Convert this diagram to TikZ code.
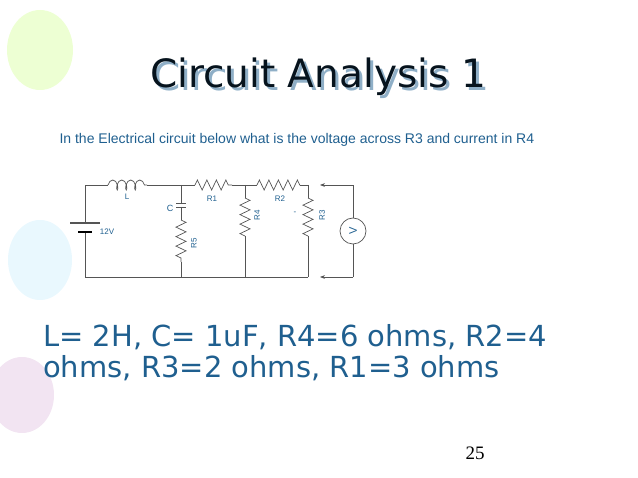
\documentclass[tikz,border=0pt]{standalone}
\usepackage{fontspec}
\setmainfont{DejaVu Sans}
\newfontfamily\arialf{Liberation Sans}
\newfontfamily\timesf{Liberation Serif}
\usetikzlibrary{decorations.pathmorphing,arrows.meta}
\definecolor{txt}{HTML}{1F5F8F}
\definecolor{wire}{HTML}{555555}
\tikzset{
 w/.style={draw=wire,line width=0.7pt},
 res/.style={w,decorate,decoration={zigzag,segment length=9.5pt,amplitude=5pt}},
 coil/.style={w,decorate,decoration={coil,aspect=0.5,segment length=9pt,amplitude=5pt}},
 lab/.style={text=txt,font=\arialf\fontsize{8}{9}\selectfont,inner sep=0pt},
 balloon/.style={fill opacity=0.35,draw=none},
}
\begin{document}
\begin{tikzpicture}[x=1pt,y=-1pt]
\useasboundingbox (0,0) rectangle (638,478);
% balloons
\fill[balloon,fill=green!40!yellow!50] (40,50) ellipse (33 and 40);
\fill[balloon,fill=cyan!25] (40,260) ellipse (32 and 40);
\fill[balloon,fill=violet!30] (22,395) ellipse (32 and 38);
% title
\node[text=txt!50,font=\fontsize{39}{46}\selectfont] at (321,80) {Circuit Analysis 1};
\node[text=black!80!txt,font=\fontsize{39}{46}\selectfont] (title) at (318,77) {Circuit Analysis 1};
\node[text=txt,font=\arialf\fontsize{14}{16}\selectfont,anchor=west] (q) at (56,140) {In the Electrical circuit below what is the voltage across R3 and current in R4};
% circuit
\coordinate (TL) at (85,185); \coordinate (BL) at (85,277);
\coordinate (Li) at (108,185); \coordinate (Lo) at (147,185);
\coordinate (J1) at (181,185); \coordinate (J1b) at (181,277);
\coordinate (R1a) at (195,185); \coordinate (R1b) at (232,185);
\coordinate (J2) at (245,185); \coordinate (J2b) at (245,277);
\coordinate (R2a) at (257,185); \coordinate (R2b) at (300,185);
\coordinate (J3) at (308,185); \coordinate (J3b) at (308,277);
\coordinate (A1) at (320,185); \coordinate (A2) at (320,277);
\coordinate (VT) at (353,185); \coordinate (VB) at (353,277);
\draw[w] (BL) -- (85,232) (85,223) -- (TL) -- (Li);
\draw[w,line width=1.2pt] (70,223) -- (100,223);
\draw[draw=black,line width=2.5pt] (78,232) -- (92,232);
\draw[coil] (Li) -- (Lo);
\draw[w] (Lo) -- (R1a);
\draw[res] (R1a) -- (R1b);
\draw[w] (R1b) -- (R2a);
\draw[res] (R2a) -- (R2b);
\draw[w] (R2b) -- (J3);
\draw[w] (J1) -- (181,203) (176,203) -- (186,203) (176,207) -- (186,207) (181,207) -- (181,220);
\draw[res] (181,220) -- (181,262);
\draw[w] (181,262) -- (J1b);
\draw[w] (J2) -- (245,198); \draw[res] (245,198) -- (245,236); \draw[w] (245,236) -- (J2b);
\draw[w] (J3) -- (308,198); \draw[res] (308,198) -- (308,236); \draw[w] (308,236) -- (J3b);
\draw[w] (BL) -- (J3b);
\node[draw=wire,line width=0.7pt,circle,minimum size=26pt,inner sep=0pt] (V) at (353,231) {\rotatebox{90}{\arialf\fontsize{11}{11}\selectfont\color{txt}V}};
\draw[w,-{Stealth[length=5pt]}] (VT) -- (A1);
\draw[w,-{Stealth[length=5pt]}] (VB) -- (A2);
\draw[w] (V.north) -- (VT) (V.south) -- (VB);
\node[lab] (lL) at (127,197) {L};
\node[lab,font=\arialf\fontsize{9}{10}\selectfont] (lC) at (170,208) {C};
\node[lab] (l12) at (107,232) {12V};
\node[lab] (lR1) at (212,199) {R1};
\node[lab] (lR2) at (280,199) {R2};
\node[lab,rotate=90] (lR5) at (194,243) {R5};
\node[lab,rotate=90] (lR4) at (257,215) {R4};
\node[lab,rotate=90] (lR3) at (322,215) {R3};
\node[lab] (dash) at (295,213) {-};
% values
\node[text=txt,font=\fontsize{29}{31}\selectfont,anchor=north west,align=left,inner sep=0pt] (vals) at (43,324) {L= 2H, C= 1uF, R4=6 ohms, R2=4\\ohms, R3=2 ohms, R1=3 ohms};
\node[font=\timesf\fontsize{19}{20}\selectfont] (pg) at (475,453) {25};
\end{tikzpicture}
\end{document}
